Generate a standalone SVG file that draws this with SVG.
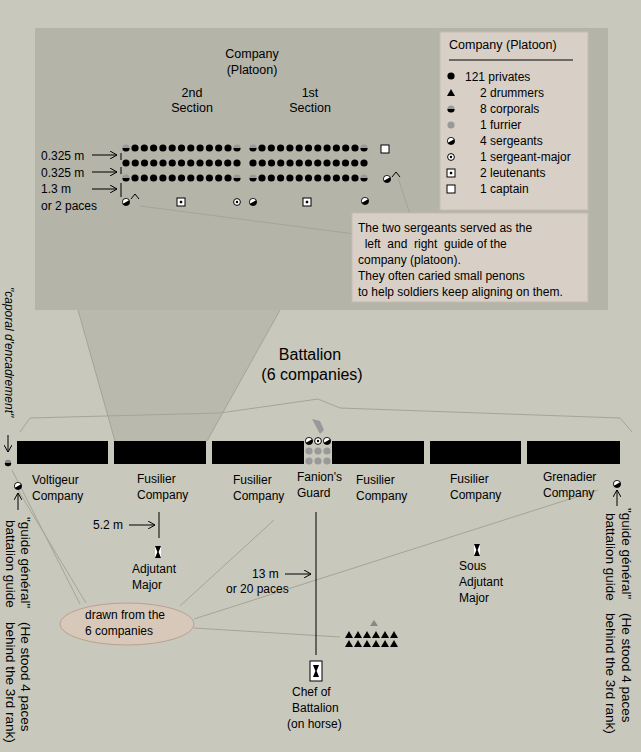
<svg xmlns="http://www.w3.org/2000/svg" width="641" height="752" viewBox="0 0 641 752">
<style>
text{font-family:"Liberation Sans",Arial,sans-serif;font-size:12px;fill:#000}
.t{font-size:12.5px}
.r{font-size:13.5px}
.thin{stroke:#a4a498;stroke-width:1;fill:none}
.ln{stroke:#000;stroke-width:1;fill:none}
.box{fill:#000}
</style>
<defs>
<marker id="ah" markerWidth="8" markerHeight="8" refX="7" refY="4" orient="auto" markerUnits="userSpaceOnUse"><path d="M0,0 L7,4 L0,8" fill="none" stroke="#000"/></marker>
<circle id="p" r="3.6" fill="#000"/>
<g id="cp"><circle r="3.6" fill="#999"/><path d="M-3.6,0 A3.6,3.6 0 0 0 3.6,0 Z" fill="#000"/></g>
<g id="sg"><circle r="3.6" fill="#000"/><path d="M-3.6,0 A3.6,3.6 0 0 1 3.6,0 Z" fill="#fff" transform="rotate(-30)"/><circle r="3.6" fill="none" stroke="#000" stroke-width="0.8"/></g>
<g id="sm"><circle r="3.4" fill="#fff" stroke="#000"/><circle r="1.2" fill="#000"/></g>
<g id="lt"><rect x="-4" y="-4" width="8" height="8" fill="#fff" stroke="#000"/><rect x="-1.2" y="-1.2" width="2.4" height="2.4" fill="#000"/></g>
<rect id="cap" x="-4" y="-4" width="8" height="8" fill="#fff" stroke="#000"/>
<path id="dr" d="M0,-4 L4,3 L-4,3 Z" fill="#000"/>
<path id="pen" d="M-4,2 L0,-3 L4,2" fill="none" stroke="#000"/>
<g id="hs"><rect x="-3" y="-6" width="6" height="12" fill="#fff"/><path d="M-3,-6 L3,-6 L0.6,0 L3,6 L-3,6 L-0.6,0 Z" fill="#000"/></g>
</defs>
<rect width="641" height="752" fill="#c8c8bc"/>
<g id="panel">
<rect x="35" y="28" width="573" height="282" fill="#b4b4a8"/>
<polygon points="78,310 280,310 207,441 115,441" fill="#b9b9ad"/>
</g>
<g id="connectors">
<line x1="78" y1="310" x2="115" y2="441" class="thin"/>
<line x1="280" y1="310" x2="207" y2="441" class="thin"/>
<polyline points="20,432 30,418 220,413 318,399 340,408 620,418 632,432" class="thin"/>
<line x1="140" y1="206" x2="370" y2="236" class="thin"/>
<line x1="398" y1="178" x2="410" y2="214" class="thin"/>
<line x1="12" y1="470" x2="80" y2="604" class="thin"/>
<line x1="18" y1="490" x2="86" y2="603" class="thin"/>
<line x1="274" y1="520" x2="180" y2="606" class="thin"/>
<line x1="598" y1="490" x2="194" y2="619" class="thin"/>
<line x1="194" y1="628" x2="340" y2="637" class="thin"/>
<line x1="159" y1="512" x2="159" y2="538" class="ln"/>
<line x1="316" y1="512" x2="316" y2="655" class="ln"/>
<line x1="92" y1="155" x2="117" y2="155" class="ln" marker-end="url(#ah)"/>
<line x1="92" y1="172" x2="117" y2="172" class="ln" marker-end="url(#ah)"/>
<line x1="92" y1="189" x2="117" y2="189" class="ln" marker-end="url(#ah)"/>
<line x1="129" y1="525" x2="155" y2="525" class="ln" marker-end="url(#ah)"/>
<line x1="285" y1="574" x2="311" y2="574" class="ln" marker-end="url(#ah)"/>
<line x1="8" y1="435" x2="8" y2="452" class="ln" marker-end="url(#ah)"/>
<line x1="18" y1="510" x2="18" y2="493" class="ln" marker-end="url(#ah)"/>
<line x1="617" y1="506" x2="617" y2="490" class="ln" marker-end="url(#ah)"/>
</g>
<g id="company-title">
<text x="252" y="58" text-anchor="middle" class="t">Company</text>
<text x="252" y="74" text-anchor="middle" class="t">(Platoon)</text>
<text x="192" y="97" text-anchor="middle" class="t">2nd</text>
<text x="192" y="112" text-anchor="middle" class="t">Section</text>
<text x="310" y="97" text-anchor="middle" class="t">1st</text>
<text x="310" y="112" text-anchor="middle" class="t">Section</text>
</g>
<g id="measures">
<text x="41" y="160">0.325 m</text>
<text x="41" y="177">0.325 m</text>
<text x="41" y="193">1.3 m</text>
<text x="41" y="210">or 2 paces</text>
<path d="M121,153 v7 M121,167 v7 M121,183 v14" stroke="#000"/>
</g>
<g id="formation">
<use href="#cp" x="126" y="148"/><use href="#cp" x="237" y="148"/><use href="#cp" x="253" y="148"/><use href="#cp" x="364" y="148"/>
<use href="#cp" x="126" y="178"/><use href="#cp" x="237" y="178"/><use href="#cp" x="253" y="178"/><use href="#cp" x="364" y="178"/>
<g id="r1">
<use href="#p" x="135" y="148"/><use href="#p" x="144.3" y="148"/><use href="#p" x="153.6" y="148"/><use href="#p" x="162.9" y="148"/><use href="#p" x="172.2" y="148"/><use href="#p" x="181.5" y="148"/><use href="#p" x="190.8" y="148"/><use href="#p" x="200.1" y="148"/><use href="#p" x="209.4" y="148"/><use href="#p" x="218.7" y="148"/><use href="#p" x="228" y="148"/>
<use href="#p" x="262" y="148"/><use href="#p" x="271.3" y="148"/><use href="#p" x="280.6" y="148"/><use href="#p" x="289.9" y="148"/><use href="#p" x="299.2" y="148"/><use href="#p" x="308.5" y="148"/><use href="#p" x="317.8" y="148"/><use href="#p" x="327.1" y="148"/><use href="#p" x="336.4" y="148"/><use href="#p" x="345.7" y="148"/><use href="#p" x="355" y="148"/>
</g>
<use href="#r1" y="30"/>
<g>
<use href="#p" x="126" y="163"/><use href="#p" x="135.25" y="163"/><use href="#p" x="144.5" y="163"/><use href="#p" x="153.75" y="163"/><use href="#p" x="163" y="163"/><use href="#p" x="172.25" y="163"/><use href="#p" x="181.5" y="163"/><use href="#p" x="190.75" y="163"/><use href="#p" x="200" y="163"/><use href="#p" x="209.25" y="163"/><use href="#p" x="218.5" y="163"/><use href="#p" x="227.75" y="163"/><use href="#p" x="237" y="163"/>
<use href="#p" x="253" y="163"/><use href="#p" x="262.25" y="163"/><use href="#p" x="271.5" y="163"/><use href="#p" x="280.75" y="163"/><use href="#p" x="290" y="163"/><use href="#p" x="299.25" y="163"/><use href="#p" x="308.5" y="163"/><use href="#p" x="317.75" y="163"/><use href="#p" x="327" y="163"/><use href="#p" x="336.25" y="163"/><use href="#p" x="345.5" y="163"/><use href="#p" x="354.75" y="163"/><use href="#p" x="364" y="163"/>
</g>
<use href="#cap" x="385" y="149"/>
<use href="#sg" x="387" y="179"/><use href="#pen" x="396" y="175"/>
<use href="#sg" x="126" y="202"/><use href="#pen" x="135" y="197"/>
<use href="#lt" x="181" y="202"/>
<use href="#sm" x="237" y="202"/>
<use href="#sg" x="253" y="202"/>
<use href="#lt" x="307" y="202"/>
<use href="#sg" x="365" y="201"/>
</g>
<g id="legend">
<rect x="440" y="32" width="148" height="178" fill="#d8d0c6" stroke="#c4bcb2"/>
<text x="449" y="49" class="t">Company (Platoon)</text>
<line x1="449" y1="60" x2="573" y2="60" stroke="#000"/>
<use href="#p" x="451" y="76"/><text x="465" y="81">121 privates</text>
<use href="#dr" x="451" y="93"/><text x="480" y="97">2 drummers</text>
<use href="#cp" x="451" y="109"/><text x="480" y="113">8 corporals</text>
<circle cx="451" cy="125" r="3.6" fill="#999"/><text x="480" y="129">1 furrier</text>
<use href="#sg" x="451" y="141"/><text x="480" y="145">4 sergeants</text>
<use href="#sm" x="451" y="157"/><text x="480" y="161">1 sergeant-major</text>
<use href="#lt" x="451" y="173"/><text x="480" y="177">2 leutenants</text>
<use href="#cap" x="451" y="189"/><text x="480" y="193">1 captain</text>
</g>
<g id="callout">
<rect x="352" y="213" width="236" height="89" fill="#d8d0c6" stroke="#c4bcb2"/>
<text x="358" y="232">The two sergeants served as the</text>
<text x="358" y="248" xml:space="preserve">  left  and  right  guide of the</text>
<text x="358" y="264">company (platoon).</text>
<text x="358" y="280">They often caried small penons</text>
<text x="358" y="296">to help soldiers keep aligning on them.</text>
</g>
<g id="battalion-title">
<text x="310" y="360" text-anchor="middle" style="font-size:16px">Battalion</text>
<text x="312" y="380" text-anchor="middle" style="font-size:16px">(6 companies)</text>
</g>
<g id="companies">
<rect x="17" y="441" width="91" height="23" class="box"/>
<rect x="114" y="441" width="92" height="23" class="box"/>
<rect x="212" y="441" width="92" height="23" class="box"/>
<rect x="332" y="441" width="92" height="23" class="box"/>
<rect x="430" y="441" width="91" height="23" class="box"/>
<rect x="527" y="441" width="93" height="23" class="box"/>
<text x="32" y="484">Voltigeur</text><text x="32" y="500">Company</text>
<text x="137" y="483">Fusilier</text><text x="137" y="499">Company</text>
<text x="233" y="484">Fusilier</text><text x="233" y="500">Company</text>
<text x="356" y="484">Fusilier</text><text x="356" y="500">Company</text>
<text x="450" y="483">Fusilier</text><text x="450" y="499">Company</text>
<text x="543" y="481">Grenadier</text><text x="543" y="497">Company</text>
</g>
<g id="fanion">
<path d="M312,419 L320,421 L324,430 L320,434 Z" fill="#999"/>
<use href="#sg" x="309" y="441"/><use href="#sm" x="318" y="441"/><use href="#sg" x="327" y="441"/>
<g fill="#999"><circle cx="309" cy="451" r="3.6"/><circle cx="318" cy="451" r="3.6"/><circle cx="327" cy="451" r="3.6"/><circle cx="309" cy="461" r="3.6"/><circle cx="318" cy="461" r="3.6"/><circle cx="327" cy="461" r="3.6"/></g>
<text x="297" y="481">Fanion's</text><text x="297" y="497">Guard</text>
</g>
<g id="caporal">
<circle cx="8" cy="463" r="3.2" fill="#888"/><path d="M4.8,463 A3.2,3.2 0 0 0 11.2,463 Z" fill="#000"/>
<text transform="translate(5,287) rotate(90)" style="font-style:italic">"caporal d'encadrement"</text>
</g>
<g id="guide-left">
<use href="#sg" x="18" y="486"/>
<text class="r" transform="translate(21,517) rotate(90)">"guide général"</text>
<text class="r" transform="translate(21,622) rotate(90)">(He stood 4 paces</text>
<text class="r" transform="translate(6,520) rotate(90)">battalion guide</text>
<text class="r" transform="translate(6,622) rotate(90)">behind the 3rd rank)</text>
</g>
<g id="guide-right">
<use href="#sg" x="617" y="484"/>
<text class="r" transform="translate(622,508) rotate(90)">"guide général"</text>
<text class="r" transform="translate(622,613) rotate(90)">(He stood 4 paces</text>
<text class="r" transform="translate(606,513) rotate(90)">battalion guide</text>
<text class="r" transform="translate(606,613) rotate(90)">behind the 3rd rank)</text>
</g>
<g id="adjutant">
<text x="93" y="529">5.2 m</text>
<use href="#hs" x="158" y="552"/>
<text x="132" y="573">Adjutant</text><text x="132" y="589">Major</text>
</g>
<g id="sous-adjutant">
<use href="#hs" x="477" y="550"/>
<text x="459" y="570">Sous</text><text x="459" y="586">Adjutant</text><text x="459" y="602">Major</text>
</g>
<g id="distance">
<text x="252" y="578">13 m</text>
<text x="226" y="593">or 20 paces</text>
</g>
<g id="drawn">
<ellipse cx="127" cy="624" rx="67" ry="21" fill="#d8c8ba" stroke="#b8a290"/>
<text x="85" y="619">drawn from the</text>
<text x="85" y="635">6 companies</text>
</g>
<g id="drummers">
<path d="M374,620 L378,626 L370,626 Z" fill="#888"/>
<g id="drow"><use href="#dr" x="349" y="644"/><use href="#dr" x="358" y="644"/><use href="#dr" x="367" y="644"/><use href="#dr" x="376" y="644"/><use href="#dr" x="385" y="644"/><use href="#dr" x="394" y="644"/></g>
<use href="#drow" y="-9"/>
</g>
<g id="chef">
<rect x="310" y="661" width="12" height="20" fill="#fff" stroke="#000"/>
<use href="#hs" x="316" y="671"/>
<text x="292" y="696">Chef of</text><text x="292" y="712">Battalion</text><text x="287" y="728">(on horse)</text>
</g>
</svg>
